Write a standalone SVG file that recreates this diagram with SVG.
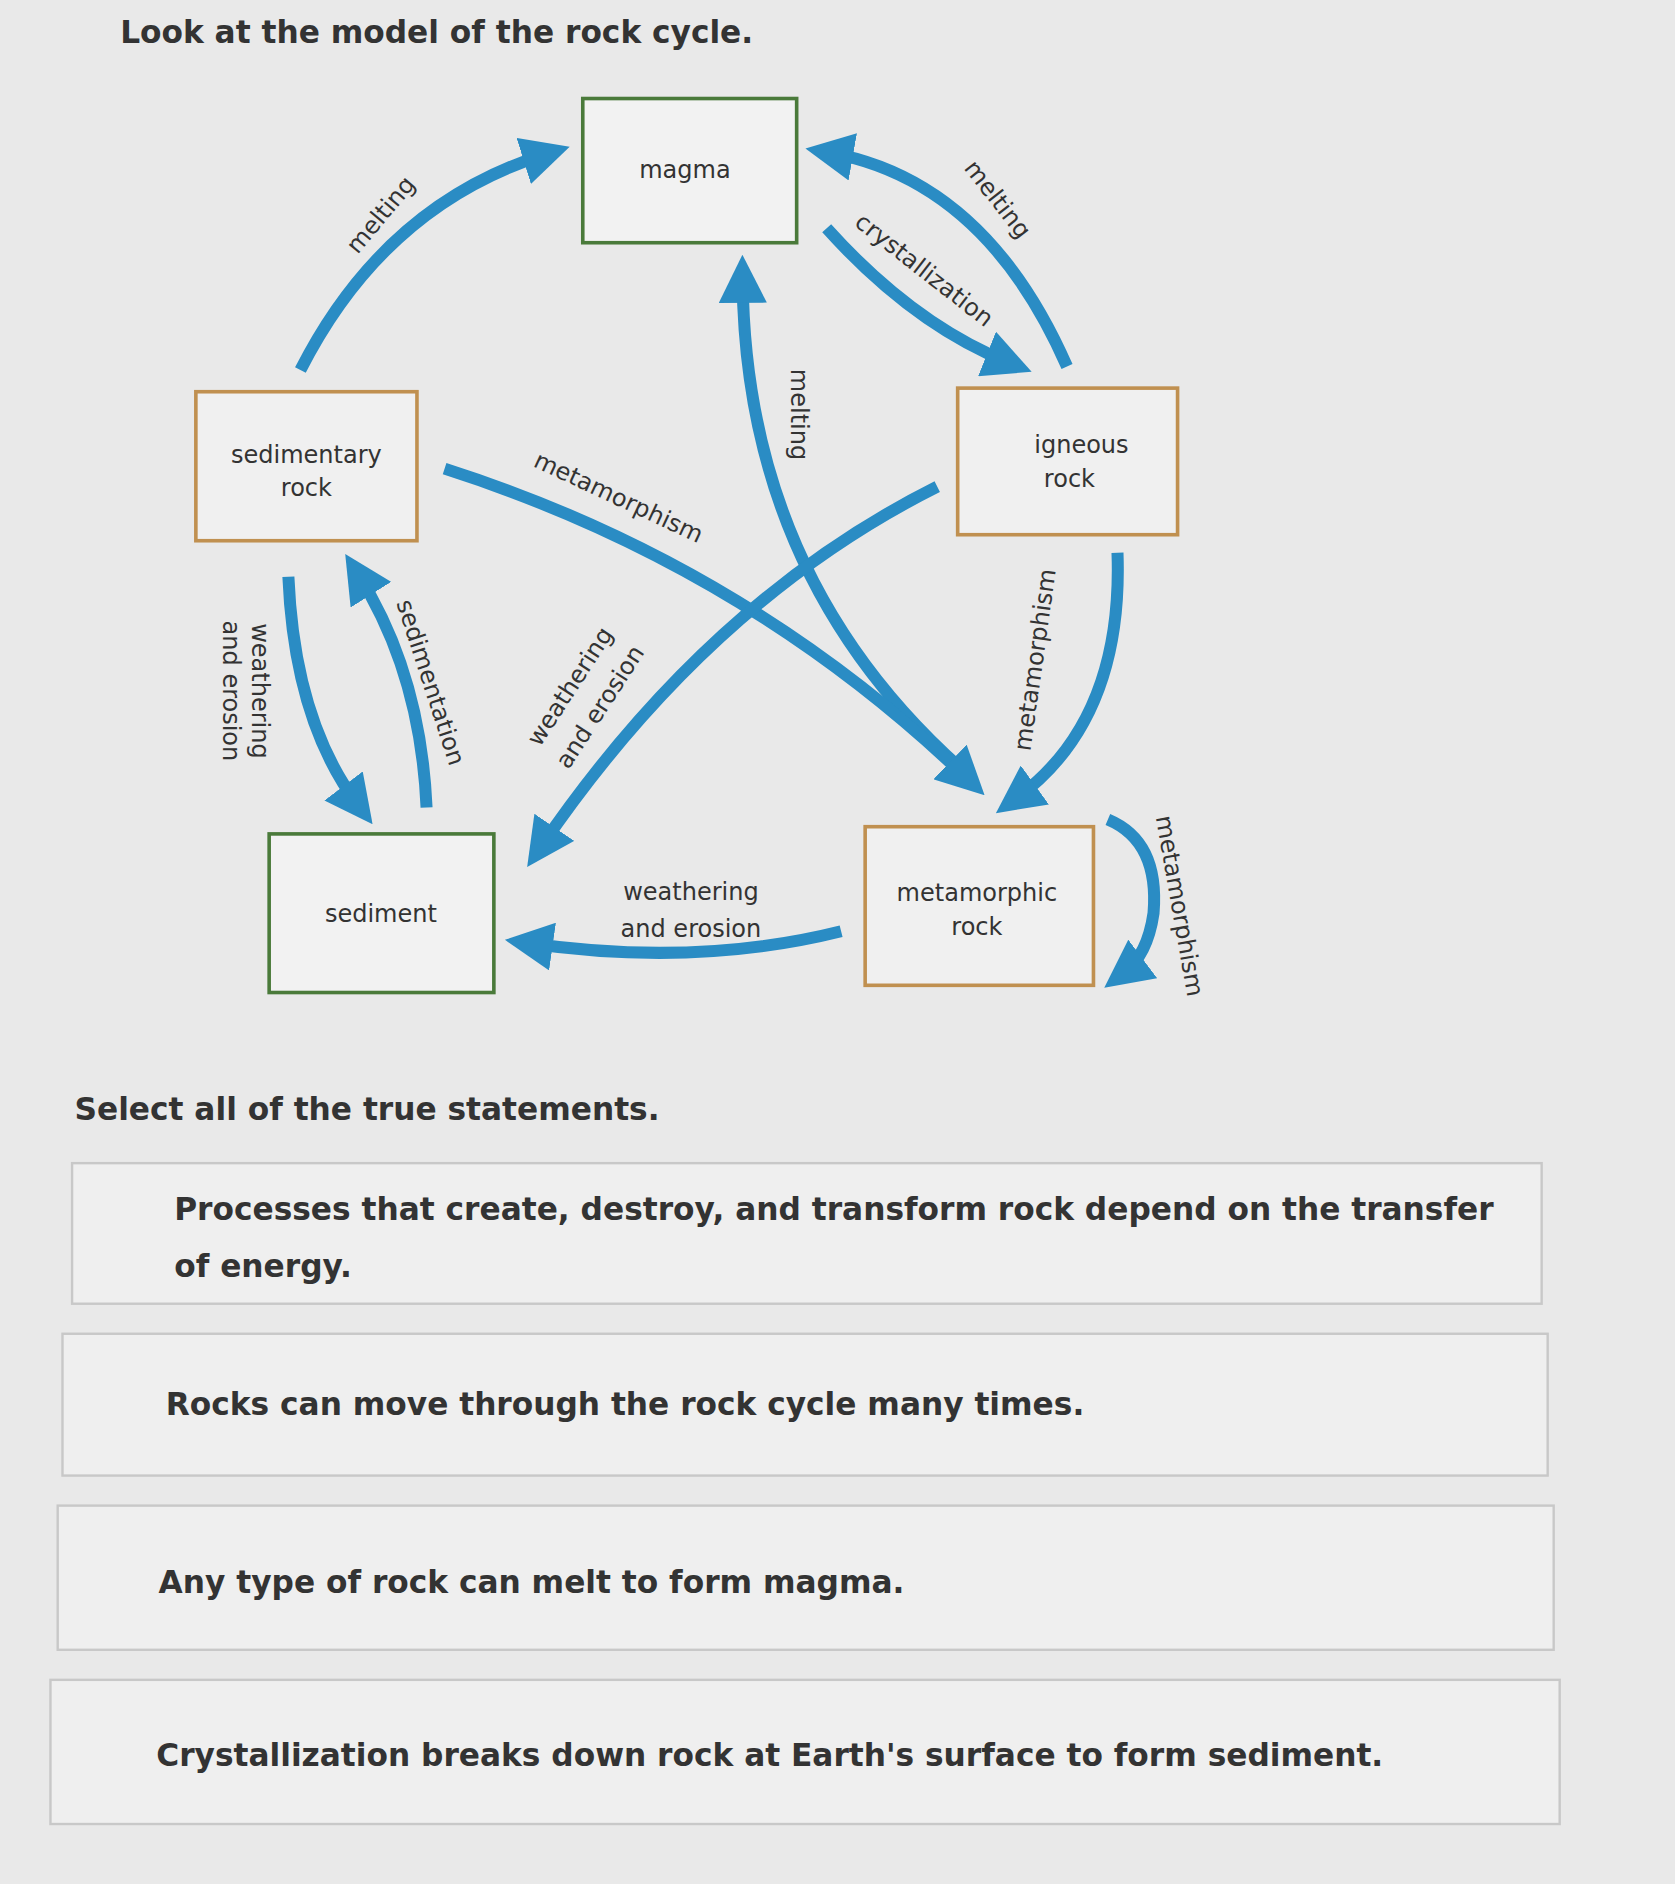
<svg xmlns="http://www.w3.org/2000/svg" width="1675" height="1884" viewBox="0 0 1675 1884">
<style>
.t{font-family:"DejaVu Sans",sans-serif;fill:#333;font-size:20px}
.q{font-family:"DejaVu Sans",sans-serif;fill:#333;font-size:26px;font-weight:bold}
.a{fill:none;stroke:#2a8cc4;stroke-width:10;marker-end:url(#h)}
.g{fill:#f2f2f2;stroke:#4a7a3a;stroke-width:3}
.o{fill:#f0f0f0;stroke:#c09050;stroke-width:3}
.opt{fill:#efefef;stroke:#c8c8c8;stroke-width:2}
</style>
<defs>
<marker id="h" markerWidth="4" markerHeight="4" refX="2" refY="2" orient="auto" markerUnits="strokeWidth">
<path d="M0,0 L4,2 L0,4 Z" fill="#2a8cc4"/></marker>
</defs>
<rect width="1675" height="1884" fill="#e9e9e9"/>
<g transform="scale(1.2016)">
<text class="q" x="100" y="36" font-size="23">Look at the model of the rock cycle.</text>
<g id="connectors">
<path class="a" d="M250,308 Q320,170 455,128"/>
<path class="a" d="M888,305 Q820,150 690,127"/>
<path class="a" d="M688,190 Q760,270 840,302"/>
<path class="a" d="M800,640 Q620,480 618,232"/>
<path class="a" d="M370,390 Q620,470 805,648"/>
<path class="a" d="M780,405 Q590,500 450,705"/>
<path class="a" d="M930,460 Q935,600 845,665"/>
<path class="a" d="M922,682 Q965,700 960,760 Q955,795 935,810"/>
<path class="a" d="M700,775 Q580,805 440,785"/>
<path class="a" d="M240,480 Q245,600 298,670"/>
<path class="a" d="M355,672 Q350,560 298,478"/>
</g>
<g id="labels">
<text class="t" transform="translate(322,183) rotate(-50)" text-anchor="middle">melting</text>
<text class="t" transform="translate(825,170) rotate(52)" text-anchor="middle">melting</text>
<text class="t" transform="translate(765,230) rotate(38)" text-anchor="middle">crystallization</text>
<text class="t" transform="translate(658,345) rotate(90)" text-anchor="middle">melting</text>
<text class="t" transform="translate(512,420) rotate(25)" text-anchor="middle">metamorphism</text>
<text class="t" transform="translate(480,575) rotate(-57)" text-anchor="middle">weathering</text>
<text class="t" transform="translate(505,592) rotate(-57)" text-anchor="middle">and erosion</text>
<text class="t" transform="translate(868,550) rotate(-82)" text-anchor="middle">metamorphism</text>
<text class="t" transform="translate(975,755) rotate(80)" text-anchor="middle">metamorphism</text>
<text class="t" x="575" y="749" text-anchor="middle">weathering</text>
<text class="t" x="575" y="780" text-anchor="middle">and erosion</text>
<text class="t" transform="translate(210,575) rotate(90)" text-anchor="middle">weathering</text>
<text class="t" transform="translate(186,575) rotate(90)" text-anchor="middle">and erosion</text>
<text class="t" transform="translate(352,570) rotate(72)" text-anchor="middle">sedimentation</text>
</g>
<g id="magma"><rect class="g" x="485" y="82" width="178" height="120"/><text class="t" x="570" y="148" text-anchor="middle">magma</text></g>
<g id="sedimentary"><rect class="o" x="163" y="326" width="184" height="124"/><text class="t" x="255" y="385" text-anchor="middle">sedimentary</text><text class="t" x="255" y="413" text-anchor="middle">rock</text></g>
<g id="igneous"><rect class="o" x="797" y="323" width="183" height="122"/><text class="t" x="900" y="377" text-anchor="middle">igneous</text><text class="t" x="890" y="405" text-anchor="middle">rock</text></g>
<g id="sediment"><rect class="g" x="224" y="694" width="187" height="132"/><text class="t" x="317" y="767" text-anchor="middle">sediment</text></g>
<g id="metamorphic"><rect class="o" x="720" y="688" width="190" height="132"/><text class="t" x="813" y="750" text-anchor="middle">metamorphic</text><text class="t" x="813" y="778" text-anchor="middle">rock</text></g>
<text class="q" x="62" y="932">Select all of the true statements.</text>
<g id="opt1"><rect class="opt" x="60" y="968" width="1223" height="117"/><text class="q" x="145" y="1015">Processes that create, destroy, and transform rock depend on the transfer</text><text class="q" x="145" y="1063">of energy.</text></g>
<g id="opt2"><rect class="opt" x="52" y="1110" width="1236" height="118"/><text class="q" x="138" y="1178">Rocks can move through the rock cycle many times.</text></g>
<g id="opt3"><rect class="opt" x="48" y="1253" width="1245" height="120"/><text class="q" x="132" y="1326">Any type of rock can melt to form magma.</text></g>
<g id="opt4"><rect class="opt" x="42" y="1398" width="1256" height="120"/><text class="q" x="130" y="1470">Crystallization breaks down rock at Earth's surface to form sediment.</text></g>
</g>
</svg>
